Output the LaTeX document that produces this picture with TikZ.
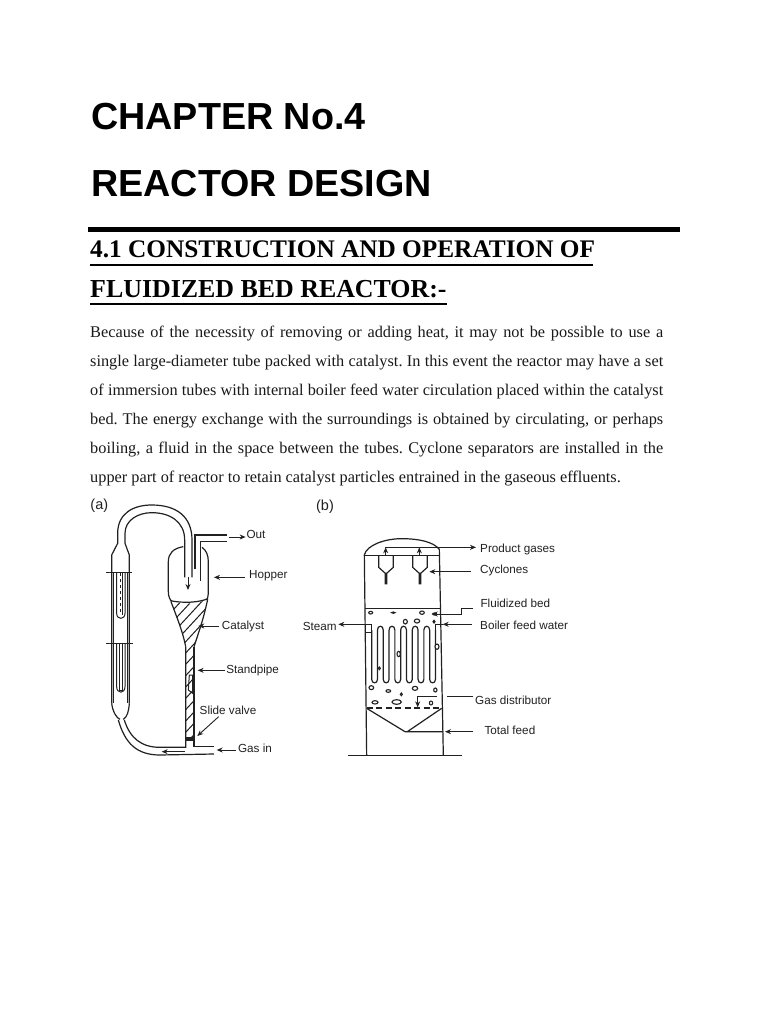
\documentclass[tikz,border=0pt]{standalone}
\usepackage{fontspec}
\setmainfont{Liberation Serif}
\newfontfamily\arialf{Liberation Sans}
\usetikzlibrary{arrows.meta,calc}
\definecolor{ink}{gray}{0.13}
\newcommand{\bodyline}[1]{\makebox[573pt][s]{#1}}
\frenchspacing
\tikzset{
  x=1pt,y=-1pt,
  txt/.style={inner sep=0pt,anchor=base west},
  chapterhead/.style={txt,font=\arialf\bfseries\fontsize{37.7}{38}\selectfont},
  sectionhead/.style={txt,font=\bfseries\fontsize{25.3}{26}\selectfont},
  sectionheadb/.style={txt,font=\bfseries\fontsize{25.9}{26}\selectfont},
  bodytxt/.style={txt,font=\frenchspacing\fontsize{16.3}{17}\selectfont,text=black!90},
  lab/.style={inner sep=0pt,text=ink,font=\arialf\fontsize{11.7}{12}\selectfont},
  panellab/.style={lab,font=\arialf\fontsize{14.5}{15}\selectfont},
  wall/.style={draw=ink,line width=1.2pt},
  thin wall/.style={draw=ink,line width=1pt},
  leader/.style={draw=ink,line width=.9pt,-{Stealth[length=6pt,width=5pt]}},
  plainleader/.style={draw=ink,line width=.9pt},
  blob/.style={draw=ink,line width=1.1pt,fill=white},
  zoomed/.style={x=1pt/3,y=-1pt/3},
}
\begin{document}
\begin{tikzpicture}
\useasboundingbox[fill=white] (0,0) rectangle (768,1024);
% headings
\node[chapterhead] (h1) at (91,130) {CHAPTER No.4};
\node[chapterhead] (h2) at (91,197) {REACTOR DESIGN};
\fill[black] (88,227.5) rectangle (680,232.5);
\node[sectionhead] (s1) at (90,258) {4.1 CONSTRUCTION AND OPERATION OF};
\fill[black] (90,263.5) rectangle (593,265.5);
\node[sectionheadb] (s2) at (90,297) {FLUIDIZED BED REACTOR:-};
\fill[black] (90,303) rectangle (447,305);
% body
\node[bodytxt] (b1) at (90,337) {\bodyline{Because of the necessity of removing or adding heat, it may not be possible to use a}};
\node[bodytxt] (b2) at (90,366) {\bodyline{single large-diameter tube packed with catalyst. In this event the reactor may have a set}};
\node[bodytxt] (b3) at (90,395) {\bodyline{of immersion tubes with internal boiler feed water circulation placed within the catalyst}};
\node[bodytxt] (b4) at (90,424) {\bodyline{bed. The energy exchange with the surroundings is obtained by circulating, or perhaps}};
\node[bodytxt] (b5) at (90,453) {\bodyline{boiling, a fluid in the space between the tubes. Cyclone separators are installed in the}};
\node[bodytxt] (b6) at (90,482) {upper part of reactor to retain catalyst particles entrained in the gaseous effluents.};

% ---------- panel (a)
\begin{scope}[shift={(70,490)},zoomed]
\node[panellab] (pa) at (88,47) {(a)};
% catalyst hatching
\begin{scope}
\clip (303,335) .. controls (355,345) and (385,340) .. (413,328) .. controls (400,390) and (385,430) .. (372,470) -- (372,745) -- (347,745) -- (347,470) .. controls (340,430) and (320,380) .. (303,335) -- cycle;
\foreach \k in {0,34,...,680}
  \draw[thin wall] (300,{370+\k}) -- (420,{370+\k-130});
\end{scope}
% riser and arch
\draw[wall] (125,640) -- (125,195) -- (143,160) -- (143,130) .. controls (143,70) and (190,45) .. (245,45) .. controls (320,45) and (366,80) .. (366,150) -- (366,262);
\draw[wall] (178,640) -- (178,195) -- (165,160) -- (165,130) .. controls (165,90) and (205,68) .. (245,68) .. controls (300,68) and (344,95) .. (344,150) -- (344,262);
\draw[thin wall] (131,248) -- (131,640);
\draw[thin wall] (172,248) -- (172,640);
\draw[wall] (125,640) .. controls (128,665) and (140,685) .. (150,688);
\draw[wall] (178,640) .. controls (176,665) and (172,680) .. (160,688);
% inlet pipe
\draw[wall] (145,690) .. controls (165,760) and (200,795) .. (270,795) -- (432,792);
\draw[wall] (163,690) .. controls (180,745) and (215,772) .. (270,772) -- (347,772) -- (347,470);
\draw[wall] (432,770) -- (372,770) -- (372,470);
% tubes in riser
\draw[wall] (108,248) -- (187,248);
\draw[wall] (108,460) -- (190,460);
\draw[thin wall] (140,248) -- (140,370) .. controls (140,390) and (165,390) .. (165,370) -- (165,248);
\draw[thin wall,dashed] (150,250) -- (150,375);
\draw[thin wall] (157,250) -- (157,375);
\draw[thin wall] (140,460) -- (140,590) .. controls (140,612) and (165,612) .. (165,590) -- (165,460);
\draw[thin wall] (148,460) -- (148,600) -- (157,600) -- (157,460);
% hopper
\draw[wall] (340,170) .. controls (310,175) and (295,190) .. (295,215) -- (295,305) .. controls (295,320) and (300,330) .. (306,334);
\draw[wall] (396,172) .. controls (408,180) and (415,195) .. (415,215) -- (415,310) .. controls (415,320) and (412,325) .. (410,330);
\draw[wall] (300,332) .. controls (340,340) and (385,338) .. (414,326);
\draw[wall] (303,335) .. controls (320,380) and (340,430) .. (347,470);
\draw[wall] (413,328) .. controls (400,390) and (385,430) .. (372,470);
% out pipe
\draw[wall] (375,238) -- (375,135) -- (472,135);
\draw[wall] (392,272) -- (392,155) -- (472,155);
% internal arrows
\draw[leader] (354,262) -- (354,300);
\draw[leader] (345,785) -- (275,785);
% slide valve
\fill[ink] (347,740) rectangle (372,752);
% standpipe blob
\draw[thin wall] (358,555) -- (368,555) -- (368,610) -- (355,600) -- cycle;
% labels
\node[lab] (out) at (558,133) {Out};
\node[lab] (hopper) at (595,258) {Hopper};
\node[lab] (catalyst) at (519,408) {Catalyst};
\node[lab] (standpipe) at (548,540) {Standpipe};
\node[lab] (slide) at (474,660) {Slide valve};
\node[lab] (gasin) at (555,776) {Gas in};
\coordinate (tOut) at (476,141);
\coordinate (tHop) at (432,262);
\coordinate (tCat) at (385,408);
\coordinate (tStd) at (383,541);
\coordinate (tSld) at (382,738);
\coordinate (tGas) at (440,780);
\coordinate (sSld) at (446,680);
\coordinate (sOut) at (527,141);
\coordinate (sHop) at (525,262);
\coordinate (sCat) at (447,408);
\coordinate (sStd) at (466,541);
\coordinate (sGas) at (497,780);
\draw[leader] (tOut) -- (sOut);
\draw[leader] (sHop) -- (tHop);
\draw[leader] (sCat) -- (tCat);
\draw[leader] (sStd) -- (tStd);
\draw[leader] (sSld) -- (tSld);
\draw[leader] (sGas) -- (tGas);
\end{scope}

% ---------- panel (b)
\begin{scope}[shift={(300,490)},zoomed]
\node[panellab] (pb) at (75,50) {(b)};
% vessel
\draw[wall] (200,797) -- (193,195) .. controls (200,165) and (255,146) .. (305,146) .. controls (355,146) and (400,155) .. (418,178) -- (430,797);
\draw[wall] (143,797) -- (487,797);
\draw[wall] (195,197) -- (418,197);
\draw[wall] (195,355) -- (422,355);
% cyclones
\foreach \cx in {258,360}{
  \draw[wall] (\cx-22,197) -- (\cx-22,232) -- (\cx-2,250) -- (\cx-2,283);
  \draw[wall] (\cx+22,197) -- (\cx+22,232) -- (\cx+2,250) -- (\cx+2,283);
}
\draw[leader] (257,197) -- (257,172);
\draw[leader] (358,197) -- (358,172);
% serpentine
\foreach \i in {0,2,...,10}{
  \draw[wall] ({215+17.4*\i},420) -- ({215+17.4*\i},568) .. controls ({215+17.4*\i},582) and ({215+17.4*(\i+1)},582) .. ({215+17.4*(\i+1)},568) -- ({215+17.4*(\i+1)},420);
}
\foreach \i in {1,3,...,9}{
  \draw[wall] ({215+17.4*\i},420) .. controls ({215+17.4*\i},405) and ({215+17.4*(\i+1)},405) .. ({215+17.4*(\i+1)},420);
}
\draw[wall] (215,420) -- (215,403);
\draw[wall] (406,420) -- (406,403);
% steam elbow
\draw[thin wall] (198,428) -- (215,428);
% blobs
\foreach \bx/\by/\ra/\rb in {212/368/6/4, 280/368/5/2, 366/368/7/5, 404/372/6/3, 316/395/6/7, 351/393/8/6, 402/395/3/4, 411/470/6/8, 296/492/5/8, 238/535/3/4, 214/593/7/6, 265/603/7/4, 304/613/3/4, 345/595/8/6, 406/600/5/6, 225/637/9/5, 290/636/14/7, 393/639/5/6}
  \draw[blob] (\bx,\by) ellipse ({\ra*1pt/3} and {\rb*1pt/3});
% distributor
\draw[wall,dash pattern=on 6pt off 3.5pt] (200,654) -- (428,654);
\draw[leader] (412,620) -- (353,620) -- (353,652);
% cone
\draw[wall] (200,655) -- (315,725) -- (430,725);
\draw[wall] (322,725) -- (425,655);
% labels
\node[lab,anchor=west] (steam) at (8,408) {Steam};
\node[lab,anchor=west] (prod) at (540,177) {Product gases};
\node[lab,anchor=west] (cyc) at (540,240) {Cyclones};
\node[lab,anchor=west] (fbed) at (541,340) {Fluidized bed};
\node[lab,anchor=west] (bfw) at (540,407) {Boiler feed water};
\node[lab,anchor=west] (gdist) at (525,630) {Gas distributor};
\node[lab,anchor=west] (tfeed) at (553,722) {Total feed};
\coordinate (cElbow) at (215,403);
\coordinate (tSteam) at (115,403);
\coordinate (cProd) at (255,172);
\coordinate (eProd) at (528,172);
\coordinate (sCyc) at (512,245);
\coordinate (tCyc) at (388,245);
\coordinate (fA) at (520,355);
\coordinate (fB) at (485,355);
\coordinate (fC) at (485,372);
\coordinate (fD) at (395,372);
\coordinate (sBfw) at (515,403);
\coordinate (tBfw) at (428,403);
\coordinate (sGd) at (520,620);
\coordinate (eGd) at (440,620);
\coordinate (sFeed) at (520,725);
\coordinate (tFeed) at (435,725);
\draw[leader] (cElbow) -- (tSteam);
\draw[leader] (cProd) -- (eProd);
\draw[leader] (sCyc) -- (tCyc);
\draw[leader] (fA) -- (fB) -- (fC) -- (fD);
\draw[leader] (sBfw) -- (tBfw);
\draw[plainleader] (tBfw) -- (406,403);
\draw[plainleader] (sGd) -- (eGd);
\draw[leader] (sFeed) -- (tFeed);
\end{scope}
\end{tikzpicture}
\end{document}
